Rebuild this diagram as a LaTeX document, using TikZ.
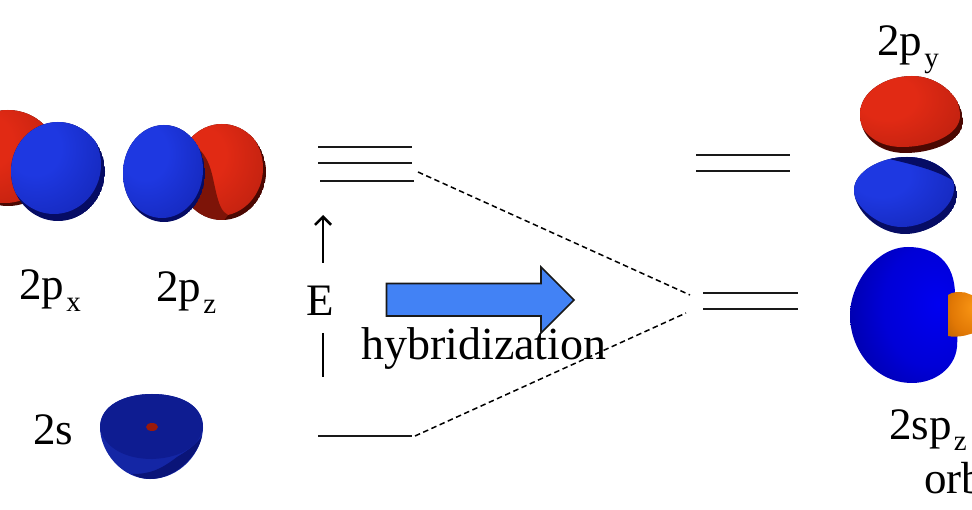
\documentclass[tikz,border=0pt]{standalone}
\usepackage{fontspec}
\setmainfont{Liberation Serif}
\usetikzlibrary{arrows.meta}
\definecolor{bA}{RGB}{30,56,225}\definecolor{bB}{RGB}{22,42,192}\definecolor{bC}{RGB}{14,26,135}\definecolor{bD}{RGB}{6,12,100}
\definecolor{rA}{RGB}{225,42,20}\definecolor{rB}{RGB}{195,34,16}\definecolor{rC}{RGB}{125,20,8}\definecolor{rD}{RGB}{75,8,2}
\definecolor{cA}{RGB}{0,0,240}\definecolor{cB}{RGB}{0,0,215}\definecolor{cC}{RGB}{0,0,95}
\definecolor{oA}{RGB}{250,150,20}\definecolor{oB}{RGB}{225,120,5}\definecolor{oC}{RGB}{170,85,0}
\definecolor{arrowblue}{RGB}{66,130,245}
\definecolor{discA}{RGB}{14,28,145}\definecolor{bowlA}{RGB}{20,38,165}
\pgfdeclareradialshading{blueball}{\pgfpoint{-12bp}{10bp}}{color(0bp)=(bA);color(14bp)=(bA);color(36bp)=(bB);color(60bp)=(bC);color(100bp)=(bC)}
\pgfdeclareradialshading{redball}{\pgfpoint{-12bp}{8bp}}{color(0bp)=(rA);color(14bp)=(rA);color(36bp)=(rB);color(60bp)=(rC);color(100bp)=(rC)}
\pgfdeclareradialshading{hybridblue}{\pgfpoint{16bp}{4bp}}{color(0bp)=(cA);color(22bp)=(cB);color(66bp)=(cC);color(100bp)=(cC)}
\pgfdeclareradialshading{orangeball}{\pgfpoint{10bp}{8bp}}{color(0bp)=(oA);color(28bp)=(oB);color(55bp)=(oC);color(100bp)=(oC)}
\newcommand{\lobe}[4]{\begin{scope}\clip #1;\fill[#3] #1;\shade[shading=#2,shift={#4}] #1;\end{scope}}
\newcommand{\subs}[1]{\raisebox{-0.25em}{\,\kern-0.12em\fontsize{29}{29}\selectfont #1}}
\tikzset{
  label text/.style={anchor=base west,inner sep=0pt,font=\fontsize{45}{50}\selectfont,text=black},
  level line/.style={line width=1.7pt,draw=black!90},
  dash link/.style={line width=1.5pt,dash pattern=on 5.5pt off 3.5pt,draw=black},
  energy/.style={line width=1.8pt,draw=black},
  block arrow/.style={fill=arrowblue,draw=black!90,line width=1.6pt,line join=miter}
}
\begin{document}
\begin{tikzpicture}[x=1pt,y=-1pt]
\useasboundingbox (0,0) rectangle (972,510);
\clip (0,0) rectangle (972,510);
% 2px
\lobe{(8,158) ellipse (50pt and 48pt)}{redball}{rD}{(-3,-3)}
\lobe{(58,171.5) ellipse (47pt and 49.5pt)}{blueball}{bD}{(-4,-7)}
% 2pz
\lobe{(222,172) ellipse (44pt and 48pt)}{redball}{rD}{(-3,-4)}
\begin{scope}
  \clip (222,172) ellipse (44pt and 48pt);
  \fill[rC] (190,140) -- (200,150) .. controls (211,162) and (212,175) .. (216,192) .. controls (219,205) and (222,212) .. (228,215) -- (220,226) -- (180,226) -- cycle;
\end{scope}
\lobe{(164,173.5) ellipse (41pt and 48.5pt)}{blueball}{bD}{(-2,-4)}
% 2py
\lobe{(860,114) .. controls (860,92) and (885,76) .. (912,76) .. controls (940,76) and (963,98) .. (963,122) .. controls (963,140) and (935,153) .. (905,153) .. controls (878,153) and (860,136) .. (860,114) -- cycle}{redball}{rD}{(-3,-6)}
\lobe{(854,190) .. controls (854,172) and (880,157) .. (907,157) .. controls (935,157) and (957,175) .. (957,195) .. controls (957,215) and (930,234) .. (905,234) .. controls (878,234) and (854,210) .. (854,190) -- cycle}{blueball}{bD}{(-3,-7)}
\begin{scope}
  \clip (854,190) .. controls (854,172) and (880,157) .. (907,157) .. controls (935,157) and (957,175) .. (957,195) .. controls (957,215) and (930,234) .. (905,234) .. controls (878,234) and (854,210) .. (854,190) -- cycle;
  \fill[bD] (885,155) -- (960,155) -- (960,186) .. controls (945,172) and (915,165) .. (885,158) -- cycle;
\end{scope}
% 2sp big lobe
\shade[shading=hybridblue] (850,315) .. controls (850,285) and (875,247) .. (908,247) .. controls (935,247) and (955,262) .. (955,295) .. controls (956,315) and (958,335) .. (957,347) .. controls (955,368) and (935,383) .. (912,383) .. controls (875,383) and (850,350) .. (850,315) -- cycle;
\shade[shading=orangeball] (948,295) .. controls (952,292) and (958,291.5) .. (965,292.5) -- (985,300) -- (985,330) -- (965,335.5) .. controls (958,337) and (952,337) .. (948,336) -- cycle;
% 2s
\fill[bowlA] (100,427) .. controls (100,405) and (125,394) .. (152,394) .. controls (180,394) and (203,405) .. (203,427) .. controls (203,452) and (180,479) .. (150,479) .. controls (122,479) and (100,452) .. (100,427) -- cycle;
\fill[bD!70!bowlA] (177,457) .. controls (187,451) and (196,445) .. (202,436) .. controls (198,456) and (175,479) .. (150,479) .. controls (143,479) and (137,477) .. (132,474) .. controls (150,474) and (160,470) .. (177,457) -- cycle;
\fill[discA] (100,428) .. controls (100,405) and (125,394) .. (152,394) .. controls (180,394) and (203,405) .. (203,428) .. controls (200,445) and (182,458) .. (152,459) .. controls (122,459) and (103,445) .. (100,428) -- cycle;
\fill[rC!60!rB] (152,427) ellipse (6pt and 4pt);
% levels: left
\coordinate (lt1a) at (318,147);\coordinate (lt1b) at (412,147);
\coordinate (lt2a) at (318,163);\coordinate (lt2b) at (412,163);
\coordinate (lt3a) at (320,181);\coordinate (lt3b) at (414,181);
\coordinate (lba) at (318,436);\coordinate (lbb) at (412,436);
\draw[level line] (lt1a) -- (lt1b);
\draw[level line] (lt2a) -- (lt2b);
\draw[level line] (lt3a) -- (lt3b);
\draw[level line] (lba) -- (lbb);
% levels: right
\coordinate (rt1a) at (696,155);\coordinate (rt1b) at (790,155);
\coordinate (rt2a) at (696,171);\coordinate (rt2b) at (790,171);
\coordinate (rb1a) at (703,293);\coordinate (rb1b) at (798,293);
\coordinate (rb2a) at (703,309);\coordinate (rb2b) at (798,309);
\draw[level line] (rt1a) -- (rt1b);
\draw[level line] (rt2a) -- (rt2b);
\draw[level line] (rb1a) -- (rb1b);
\draw[level line] (rb2a) -- (rb2b);
% dashed links
\coordinate (dua) at (418,172);\coordinate (dub) at (690,295);
\coordinate (dla) at (415,436);\coordinate (dlb) at (686,313);
\draw[dash link] (dua) -- (dub);
\draw[dash link] (dla) -- (dlb);
% block arrow
\path[block arrow] (386.5,283.5) -- (541,283.5) -- (541,267) -- (574,300) -- (541,333) -- (541,316) -- (386.5,316) -- cycle;
% energy axis
\node[label text] (eLabel) at (306,316) {E};
\coordinate (eUpA) at (323,263);\coordinate (eUpB) at (323,215);
\coordinate (eLoA) at (323,333);\coordinate (eLoB) at (323,377);
\draw[energy,-{Straight Barb[length=8pt,width=16pt,line width=2.6pt]}] (eUpA) -- (eUpB);
\draw[energy] (eLoA) -- (eLoB);
% labels
\node[label text,font=\fontsize{46}{50}\selectfont] (hyb) at (361,360) {hybridization};
\node[label text] (lpx) at (19,300) {2p\subs{x}};
\node[label text] (lpz) at (156,302) {2p\subs{z}};
\node[label text] (ls) at (33,444) {2s};
\node[label text] (lpy) at (877,56) {2p\subs{y}};
\node[label text] (lsp) at (889,439) {2sp\subs{z}};
\node[label text] (lorb) at (924,493) {orb};
\end{tikzpicture}
\end{document}
